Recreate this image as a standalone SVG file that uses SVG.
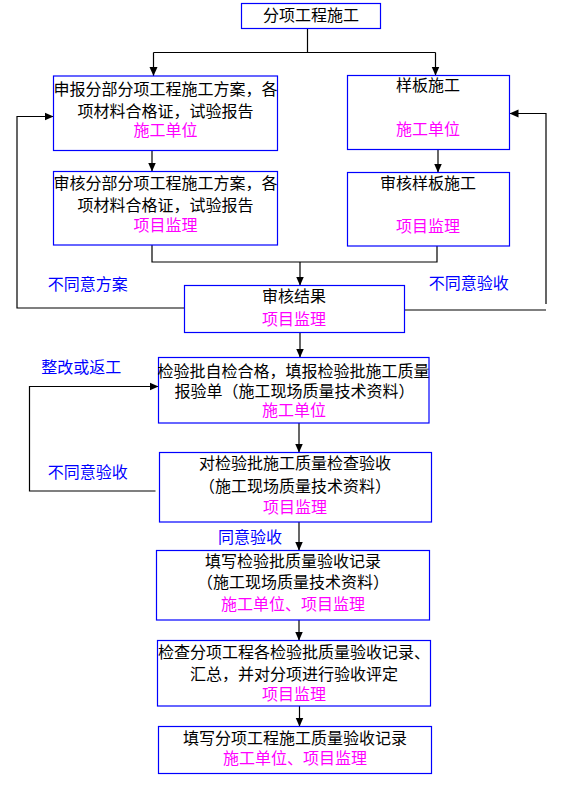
<svg xmlns="http://www.w3.org/2000/svg" width="563" height="787" viewBox="0 0 563 787">
<style>
.box{fill:#ffffff;stroke:#0000ff;stroke-width:1.2}
text{font-family:"Liberation Sans","Noto Sans CJK SC",sans-serif;font-size:16px;text-anchor:middle}
.k{fill:#000000}
.m{fill:#ff00ff}
.b{fill:#0000ff}
.c{fill:none;stroke:#000000;stroke-width:1.2}
</style>
<defs>
<marker id="ah" markerUnits="userSpaceOnUse" markerWidth="10" markerHeight="10" viewBox="0 0 10 10" refX="9" refY="5" orient="auto">
<path d="M0,1 L9,5 L0,9 Z" fill="#000000"/>
</marker>
</defs>
<rect width="563" height="787" fill="#ffffff"/>
<g id="connectors">
<path class="c" d="M307.5,29 V52.5"/>
<path class="c" d="M153.5,52.5 H435.5"/>
<path class="c" d="M153.5,52.5 V76" marker-end="url(#ah)"/>
<path class="c" d="M435.5,52.5 V75.5" marker-end="url(#ah)"/>
<path class="c" d="M152,150.5 V171.5" marker-end="url(#ah)"/>
<path class="c" d="M438,149.5 V172.5" marker-end="url(#ah)"/>
<path class="c" d="M152,245 V262 H437 V246"/>
<path class="c" d="M300,262 V285.5" marker-end="url(#ah)"/>
<path class="c" d="M186.5,308 H17 V116.5 H53.5" marker-end="url(#ah)"/>
<path class="c" d="M402,310 H546"/>
<path class="c" d="M546,304 V113.5 H509.5" marker-end="url(#ah)"/>
<path class="c" d="M300,332.5 V357.5" marker-end="url(#ah)"/>
<path class="c" d="M155.5,491 H29.5 V386.5 H158.5" marker-end="url(#ah)"/>
<path class="c" d="M299,423 V452.5" marker-end="url(#ah)"/>
<path class="c" d="M299,522 V550.5" marker-end="url(#ah)"/>
<path class="c" d="M299,620 V640.5" marker-end="url(#ah)"/>
<path class="c" d="M299.5,706 V726.5" marker-end="url(#ah)"/>
<text class="b" x="87.8" y="289.5">不同意方案</text>
<text class="b" x="468.7" y="289">不同意验收</text>
<text class="b" x="81.2" y="373">整改或返工</text>
<text class="b" x="87.8" y="477.5">不同意验收</text>
<text class="b" x="250" y="543">同意验收</text>
</g>
<g id="n1">
<rect class="box" x="241.5" y="3.5" width="139" height="25"/>
<text class="k" x="311" y="20.5">分项工程施工</text>
</g>
<g id="n2">
<rect class="box" x="53.5" y="76" width="224" height="74.5"/>
<text class="k" x="165.5" y="94.5">申报分部分项工程施工方案，各</text>
<text class="k" x="165.5" y="116.5">项材料合格证，试验报告</text>
<text class="m" x="165.5" y="135.5">施工单位</text>
</g>
<g id="n3">
<rect class="box" x="53.5" y="171.5" width="224" height="73.5"/>
<text class="k" x="165.5" y="189">审核分部分项工程施工方案，各</text>
<text class="k" x="165.5" y="210.5">项材料合格证，试验报告</text>
<text class="m" x="165.5" y="230.5">项目监理</text>
</g>
<g id="n4">
<rect class="box" x="347.5" y="75.5" width="162" height="74"/>
<text class="k" x="428" y="90.5">样板施工</text>
<text class="m" x="428" y="135">施工单位</text>
</g>
<g id="n5">
<rect class="box" x="347.5" y="172.5" width="162" height="73.5"/>
<text class="k" x="428" y="188.5">审核样板施工</text>
<text class="m" x="428" y="231.5">项目监理</text>
</g>
<g id="n6">
<rect class="box" x="184.5" y="285.5" width="220" height="47"/>
<text class="k" x="294" y="301.5">审核结果</text>
<text class="m" x="294" y="324.5">项目监理</text>
</g>
<g id="n7">
<rect class="box" x="158.5" y="357.5" width="270.5" height="65.5"/>
<text class="k" x="293.5" y="376.5">检验批自检合格，填报检验批施工质量</text>
<text class="k" x="294.5" y="396.5">报验单（施工现场质量技术资料）</text>
<text class="m" x="294" y="416">施工单位</text>
</g>
<g id="n8">
<rect class="box" x="159.5" y="452.5" width="272" height="69.5"/>
<text class="k" x="295" y="469">对检验批施工质量检查验收</text>
<text class="k" x="295" y="491.5">（施工现场质量技术资料）</text>
<text class="m" x="295" y="513">项目监理</text>
</g>
<g id="n9">
<rect class="box" x="156.5" y="550.5" width="273" height="69.5"/>
<text class="k" x="293" y="567">填写检验批质量验收记录</text>
<text class="k" x="293" y="588">（施工现场质量技术资料）</text>
<text class="m" x="293" y="609.5">施工单位、项目监理</text>
</g>
<g id="n10">
<rect class="box" x="157.5" y="640.5" width="273" height="65.5"/>
<text class="k" x="294" y="658">检查分项工程各检验批质量验收记录、</text>
<text class="k" x="294" y="679.5">汇总，并对分项进行验收评定</text>
<text class="m" x="294" y="699.5">项目监理</text>
</g>
<g id="n11">
<rect class="box" x="158.5" y="726.5" width="273" height="47"/>
<text class="k" x="295" y="743.5">填写分项工程施工质量验收记录</text>
<text class="m" x="295" y="763.5">施工单位、项目监理</text>
</g>
</svg>
